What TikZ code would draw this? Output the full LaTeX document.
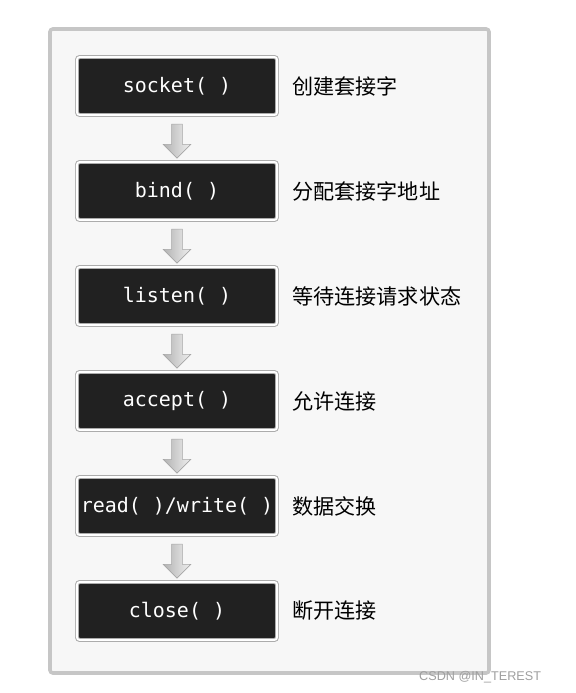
\documentclass[tikz,border=0pt]{standalone}
\usepackage{fontspec}
\usepackage{tikz}
\usetikzlibrary{positioning,shapes.arrows}
\setmonofont{DejaVu Sans Mono}
\newfontfamily\cjk{Noto Sans CJK SC}
\newfontfamily\wmfont{Liberation Sans}

\tikzset{
	panel/.style={draw=gray!45, line width=2.5pt, fill=gray!6, rounded corners=2pt},
	callbox/.style={draw=gray!65, double=white, double distance=1.4pt, line width=0.7pt, fill=black!87, rounded corners=2pt, minimum width=5cm, minimum height=1.45cm, inner sep=0.5pt, text=white, font=\ttfamily\fontsize{14.2}{17}\selectfont},
	calllabel/.style={anchor=west, font=\cjk\fontsize{15}{18}\selectfont},
	flowarrow/.style={single arrow, shape border rotate=270, draw=gray!70, left color=gray!60, right color=gray!12, minimum height=0.85cm, minimum width=0.675cm, inner sep=0.125cm, single arrow head extend=0.21cm}
}

\begin{document}
\begin{tikzpicture}[x=0.025cm, y=0.025cm]
				\useasboundingbox (0,0) rectangle (576,693);
				\draw[panel] (50,20) rectangle (489,664);
				\node[callbox] (0) at (177,607) {socket( )};
				\node[callbox] (1) at (177,502) {bind( )};
				\node[callbox] (2) at (177,397) {listen( )};
				\node[callbox] (3) at (177,292) {accept( )};
				\node[callbox] (4) at (177,187) {read( )/write( )};
				\node[callbox] (5) at (177,82) {close( )};
				\node[calllabel, right=0.25cm of 0] (6) {创建套接字};
				\node[calllabel, right=0.25cm of 1] (7) {分配套接字地址};
				\node[calllabel, right=0.25cm of 2] (8) {等待连接请求状态};
				\node[calllabel, right=0.25cm of 3] (9) {允许连接};
				\node[calllabel, right=0.25cm of 4] (10) {数据交换};
				\node[calllabel, right=0.25cm of 5] (11) {断开连接};
				\path (0) -- node[flowarrow] {} (1);
				\path (1) -- node[flowarrow] {} (2);
				\path (2) -- node[flowarrow] {} (3);
				\path (3) -- node[flowarrow] {} (4);
				\path (4) -- node[flowarrow] {} (5);
				\node[anchor=east, text=gray!75, font=\wmfont\fontsize{9}{11}\selectfont] (12) at (546,16) {CSDN @IN\_TEREST};
			\end{tikzpicture}
\end{document}
